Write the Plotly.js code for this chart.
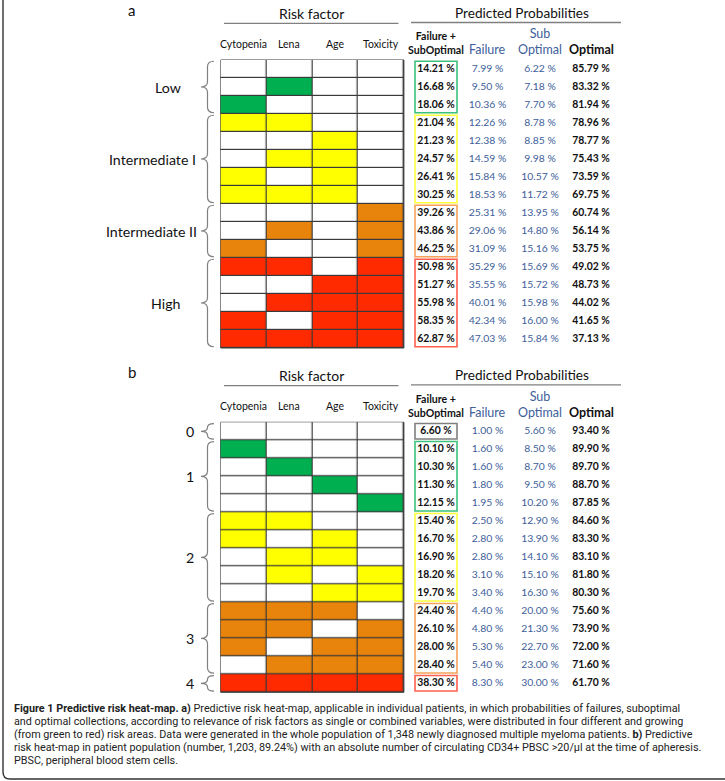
<!DOCTYPE html>
<html>
<head>
<meta charset="utf-8">
<script src="https://cdn.plot.ly/plotly-3.0.1.min.js"></script>
<style>html,body{margin:0;padding:0;background:#fff;}#chart{width:725px;height:781px;}</style>
</head>
<body>
<div id="chart"></div>
<script>
// ---------------- DATA ----------------
const riskFactors = ['Cytopenia', 'Lena', 'Age', 'Toxicity'];
const probHeaders = ['Failure +<br>SubOptimal', 'Failure', 'Sub<br>Optimal', 'Optimal'];

// Panel a
const aGroups = ['Low', 'Intermediate I', 'Intermediate II', 'High'];
const aGroupSizes = [3, 5, 3, 5];
const aGroupLevels = [1, 2, 3, 4];
// cell codes: 0 = absent, 1 = green, 2 = yellow, 3 = orange, 4 = red
const aCells = [
  [0,0,0,0],[0,1,0,0],[1,0,0,0],
  [2,2,0,0],[0,0,2,0],[0,2,2,0],[2,0,2,0],[2,2,2,0],
  [0,0,0,3],[0,3,0,3],[3,0,0,3],
  [4,4,0,4],[0,0,4,4],[0,4,4,4],[4,0,4,4],[4,4,4,4]
];
const aFailSub = [14.21,16.68,18.06,21.04,21.23,24.57,26.41,30.25,39.26,43.86,46.25,50.98,51.27,55.98,58.35,62.87];
const aFailure = [7.99,9.50,10.36,12.26,12.38,14.59,15.84,18.53,25.31,29.06,31.09,35.29,35.55,40.01,42.34,47.03];
const aSubOpt  = [6.22,7.18,7.70,8.78,8.85,9.98,10.57,11.72,13.95,14.80,15.16,15.69,15.72,15.98,16.00,15.84];
const aOptimal = [85.79,83.32,81.94,78.96,78.77,75.43,73.59,69.75,60.74,56.14,53.75,49.02,48.73,44.02,41.65,37.13];

// Panel b
const bGroups = ['0', '1', '2', '3', '4'];
const bGroupSizes = [1, 4, 5, 4, 1];
const bGroupLevels = [0, 1, 2, 3, 4];
const bCells = [
  [0,0,0,0],
  [1,0,0,0],[0,1,0,0],[0,0,1,0],[0,0,0,1],
  [2,2,0,0],[2,0,2,0],[0,2,2,0],[0,2,0,2],[0,0,2,2],
  [3,3,3,0],[3,3,0,3],[3,0,3,3],[0,3,3,3],
  [4,4,4,4]
];
const bFailSub = [6.60,10.10,10.30,11.30,12.15,15.40,16.70,16.90,18.20,19.70,24.40,26.10,28.00,28.40,38.30];
const bFailure = [1.00,1.60,1.60,1.80,1.95,2.50,2.80,2.80,3.10,3.40,4.40,4.80,5.30,5.40,8.30];
const bSubOpt  = [5.60,8.50,8.70,9.50,10.20,12.90,13.90,14.10,15.10,16.30,20.00,21.30,22.70,23.00,30.00];
const bOptimal = [93.40,89.90,89.70,88.70,87.85,84.60,83.30,83.10,81.80,80.30,75.60,73.90,72.00,71.60,61.70];

const captionLines = [
  '<b>Figure 1 Predictive risk heat-map. a)</b> Predictive risk heat-map, applicable in individual patients, in which probabilities of failures, suboptimal',
  'and optimal collections, according to relevance of risk factors as single or combined variables, were distributed in four different and growing',
  '(from green to red) risk areas. Data were generated in the whole population of 1,348 newly diagnosed multiple myeloma patients. <b>b)</b> Predictive',
  'risk heat-map in patient population (number, 1,203, 89.24%) with an absolute number of circulating CD34+ PBSC >20/µl at the time of apheresis.',
  'PBSC, peripheral blood stem cells.'
];

// ---------------- STYLE / LAYOUT ----------------
const W = 725, H = 781;
const FONT = 'Lato, "Open Sans", sans-serif';
const CAPFONT = 'Roboto, "Liberation Sans", sans-serif';
const BLUE = '#40609a';
const cellColors = ['#ffffff', '#00b050', '#ffff00', '#e8830c', '#ff2a00'];
const boxColors = ['#7f7f7f', '#3cc17b', '#ffff3c', '#f5a25a', '#ff5f4c'];

// pixel geometry
const gridLeft = 220.7, cellW = 45.8, rowH = 18;
const panelTop = {a: 60, b: 422.3};
const colPx = [436, 487.5, 540, 591];        // centres of the probability columns (px)
const boxPx = [415, 457];                     // left/right of the group boxes (px)
const bracePx = {v: 207.5, hook: 214, tip: 201};

const xFromPx = p => (p - gridLeft) / cellW - 0.5;
const px = p => p / W;
const py = p => 1 - p / H;

const xRange = [xFromPx(0), xFromPx(W)];
function yRange(top) { return [ -0.5 + (H - top) / rowH, -0.5 - top / rowH ]; }

const colorscale = [];
cellColors.forEach((c, i) => {
  colorscale.push([i / cellColors.length, c]);
  colorscale.push([(i + 1) / cellColors.length, c]);
});

const traces = [];
const shapes = [];
const annotations = [];

function fmt(v) { return v.toFixed(2) + ' %'; }

function buildPanel(key, yax, cells, groups, sizes, levels, cols, labelPx, letter) {
  const n = cells.length;
  const rows = cells.map((_, i) => i);
  const yref = yax === 'y' ? 'y' : 'y2';
  const top = panelTop[key];
  const off = top - panelTop.a;

  // grid background (shows through the cell gaps as the cell borders)
  shapes.push({type: 'rect', xref: 'x', yref: yref, layer: 'below',
    x0: -0.5, x1: riskFactors.length - 0.5, y0: -0.5, y1: n - 0.5,
    fillcolor: '#3a3a3a', line: {color: '#3a3a3a', width: 1}});

  traces.push({
    type: 'heatmap', xaxis: 'x', yaxis: yax,
    z: cells, x: riskFactors.map((_, i) => i), y: rows,
    zmin: -0.5, zmax: cellColors.length - 0.5, colorscale: colorscale,
    showscale: false, xgap: 1.2, ygap: 1.2, hoverinfo: 'skip'
  });

  const styles = [
    {color: '#111', bold: true},
    {color: BLUE, bold: false},
    {color: BLUE, bold: false},
    {color: '#111', bold: true}
  ];
  cols.forEach((vals, c) => {
    traces.push({
      type: 'scatter', mode: 'text', xaxis: 'x', yaxis: yax,
      x: vals.map(() => xFromPx(colPx[c])), y: rows,
      text: vals.map(v => styles[c].bold ? '<b>' + fmt(v) + '</b>' : fmt(v)),
      textfont: {family: FONT, size: 10.4, color: styles[c].color},
      textposition: 'middle center', hoverinfo: 'skip', showlegend: false, cliponaxis: false
    });
  });

  // groups: boxes, braces and labels
  let start = 0;
  groups.forEach((g, gi) => {
    const end = start + sizes[gi] - 1;
    const y0 = start - 0.5, y1 = end + 0.5;
    shapes.push({type: 'rect', xref: 'x', yref: yref,
      x0: xFromPx(boxPx[0]), x1: xFromPx(boxPx[1]), y0: y0 + 0.07, y1: y1 - 0.07,
      line: {color: boxColors[levels[gi]], width: 1.6}, fillcolor: 'rgba(0,0,0,0)'});
    const xv = xFromPx(bracePx.v), xh = xFromPx(bracePx.hook), xt = xFromPx(bracePx.tip);
    const yt = y0 + 0.07, yb = y1 - 0.07, ym = (y0 + y1) / 2;
    const r = Math.min(0.3, (yb - yt) / 4);
    const path = `M ${xh},${yt} Q ${xv},${yt} ${xv},${yt + r} L ${xv},${ym - r} Q ${xv},${ym} ${xt},${ym} ` +
                 `Q ${xv},${ym} ${xv},${ym + r} L ${xv},${yb - r} Q ${xv},${yb} ${xh},${yb}`;
    shapes.push({type: 'path', xref: 'x', yref: yref, path: path, line: {color: '#808080', width: 1.2}});
    annotations.push({xref: 'paper', yref: yref, x: px(labelPx[gi]), y: ym, text: g,
      showarrow: false, xanchor: 'center', yanchor: 'middle',
      font: {family: FONT, size: 14.2, color: '#111'}});
    start = end + 1;
  });

  // headers
  annotations.push({xref: 'paper', yref: 'paper', x: px(126), y: py(10 + off), text: letter,
    showarrow: false, xanchor: 'left', yanchor: 'middle', font: {family: FONT, size: 15, color: '#111'}});
  annotations.push({xref: 'paper', yref: 'paper', x: px(311.5), y: py(13 + off), text: 'Risk factor',
    showarrow: false, xanchor: 'center', yanchor: 'middle', font: {family: FONT, size: 14, color: '#111'}});
  annotations.push({xref: 'paper', yref: 'paper', x: px(522), y: py(13 + off), text: 'Predicted Probabilities',
    showarrow: false, xanchor: 'center', yanchor: 'middle', font: {family: FONT, size: 13.6, color: '#111'}});
  shapes.push({type: 'line', xref: 'paper', yref: 'paper', x0: px(224), x1: px(398.5),
    y0: py(23.3 + off), y1: py(23.3 + off), line: {color: '#808080', width: 1.3}});
  shapes.push({type: 'line', xref: 'paper', yref: 'paper', x0: px(411), x1: px(621),
    y0: py(22.5 + off), y1: py(22.5 + off), line: {color: '#808080', width: 1.3}});
  riskFactors.forEach((f, i) => {
    annotations.push({xref: 'x', yref: 'paper', x: i, y: py(44 + off), text: f,
      showarrow: false, xanchor: 'center', yanchor: 'middle', font: {family: FONT, size: 10.5, color: '#111'}});
  });
  // probability headers
  annotations.push({xref: 'paper', yref: 'paper', x: px(colPx[0]), y: py(43.5 + off), text: '<b>' + probHeaders[0] + '</b>',
    showarrow: false, xanchor: 'center', yanchor: 'middle', font: {family: FONT, size: 10.6, color: '#111'}});
  annotations.push({xref: 'paper', yref: 'paper', x: px(colPx[1]), y: py(50 + off), text: probHeaders[1],
    showarrow: false, xanchor: 'center', yanchor: 'middle', font: {family: FONT, size: 12.5, color: BLUE}});
  annotations.push({xref: 'paper', yref: 'paper', x: px(colPx[2]), y: py(42 + off), text: probHeaders[2],
    showarrow: false, xanchor: 'center', yanchor: 'middle', font: {family: FONT, size: 12.5, color: BLUE}});
  annotations.push({xref: 'paper', yref: 'paper', x: px(colPx[3]), y: py(50 + off), text: '<b>' + probHeaders[3] + '</b>',
    showarrow: false, xanchor: 'center', yanchor: 'middle', font: {family: FONT, size: 12.5, color: '#111'}});
}

buildPanel('a', 'y', aCells, aGroups, aGroupSizes, aGroupLevels,
  [aFailSub, aFailure, aSubOpt, aOptimal], [168, 152, 151, 165.5], 'a');
buildPanel('b', 'y2', bCells, bGroups, bGroupSizes, bGroupLevels,
  [bFailSub, bFailure, bSubOpt, bOptimal], [190, 190, 190, 190, 190], 'b');

// caption + frame
captionLines.forEach((line, i) => {
  annotations.push({xref: 'paper', yref: 'paper', x: px(12), y: py(708 + 13 * i), xanchor: 'left', yanchor: 'middle',
    align: 'left', showarrow: false, text: line,
    font: {family: CAPFONT, size: 10.8, color: '#222'}});
});
const rr = 7;
shapes.push({type: 'path', xref: 'paper', yref: 'paper',
  path: `M ${px(3)},${py(0)} L ${px(3)},${py(779 - rr)} Q ${px(3)},${py(779)} ${px(3 + rr)},${py(779)} L ${px(725)},${py(779)}`,
  line: {color: '#333', width: 1.4}});

const layout = {
  width: W, height: H,
  margin: {l: 0, r: 0, t: 0, b: 0, pad: 0},
  paper_bgcolor: '#ffffff', plot_bgcolor: 'rgba(0,0,0,0)',
  showlegend: false,
  xaxis: {domain: [0, 1], range: xRange, visible: false, fixedrange: true},
  yaxis: {domain: [0, 1], range: yRange(panelTop.a), visible: false, fixedrange: true},
  yaxis2: {domain: [0, 1], range: yRange(panelTop.b), visible: false, overlaying: 'y', fixedrange: true},
  shapes: shapes,
  annotations: annotations
};

Plotly.newPlot('chart', traces, layout, {displayModeBar: false, staticPlot: true});
</script>
</body>
</html>
